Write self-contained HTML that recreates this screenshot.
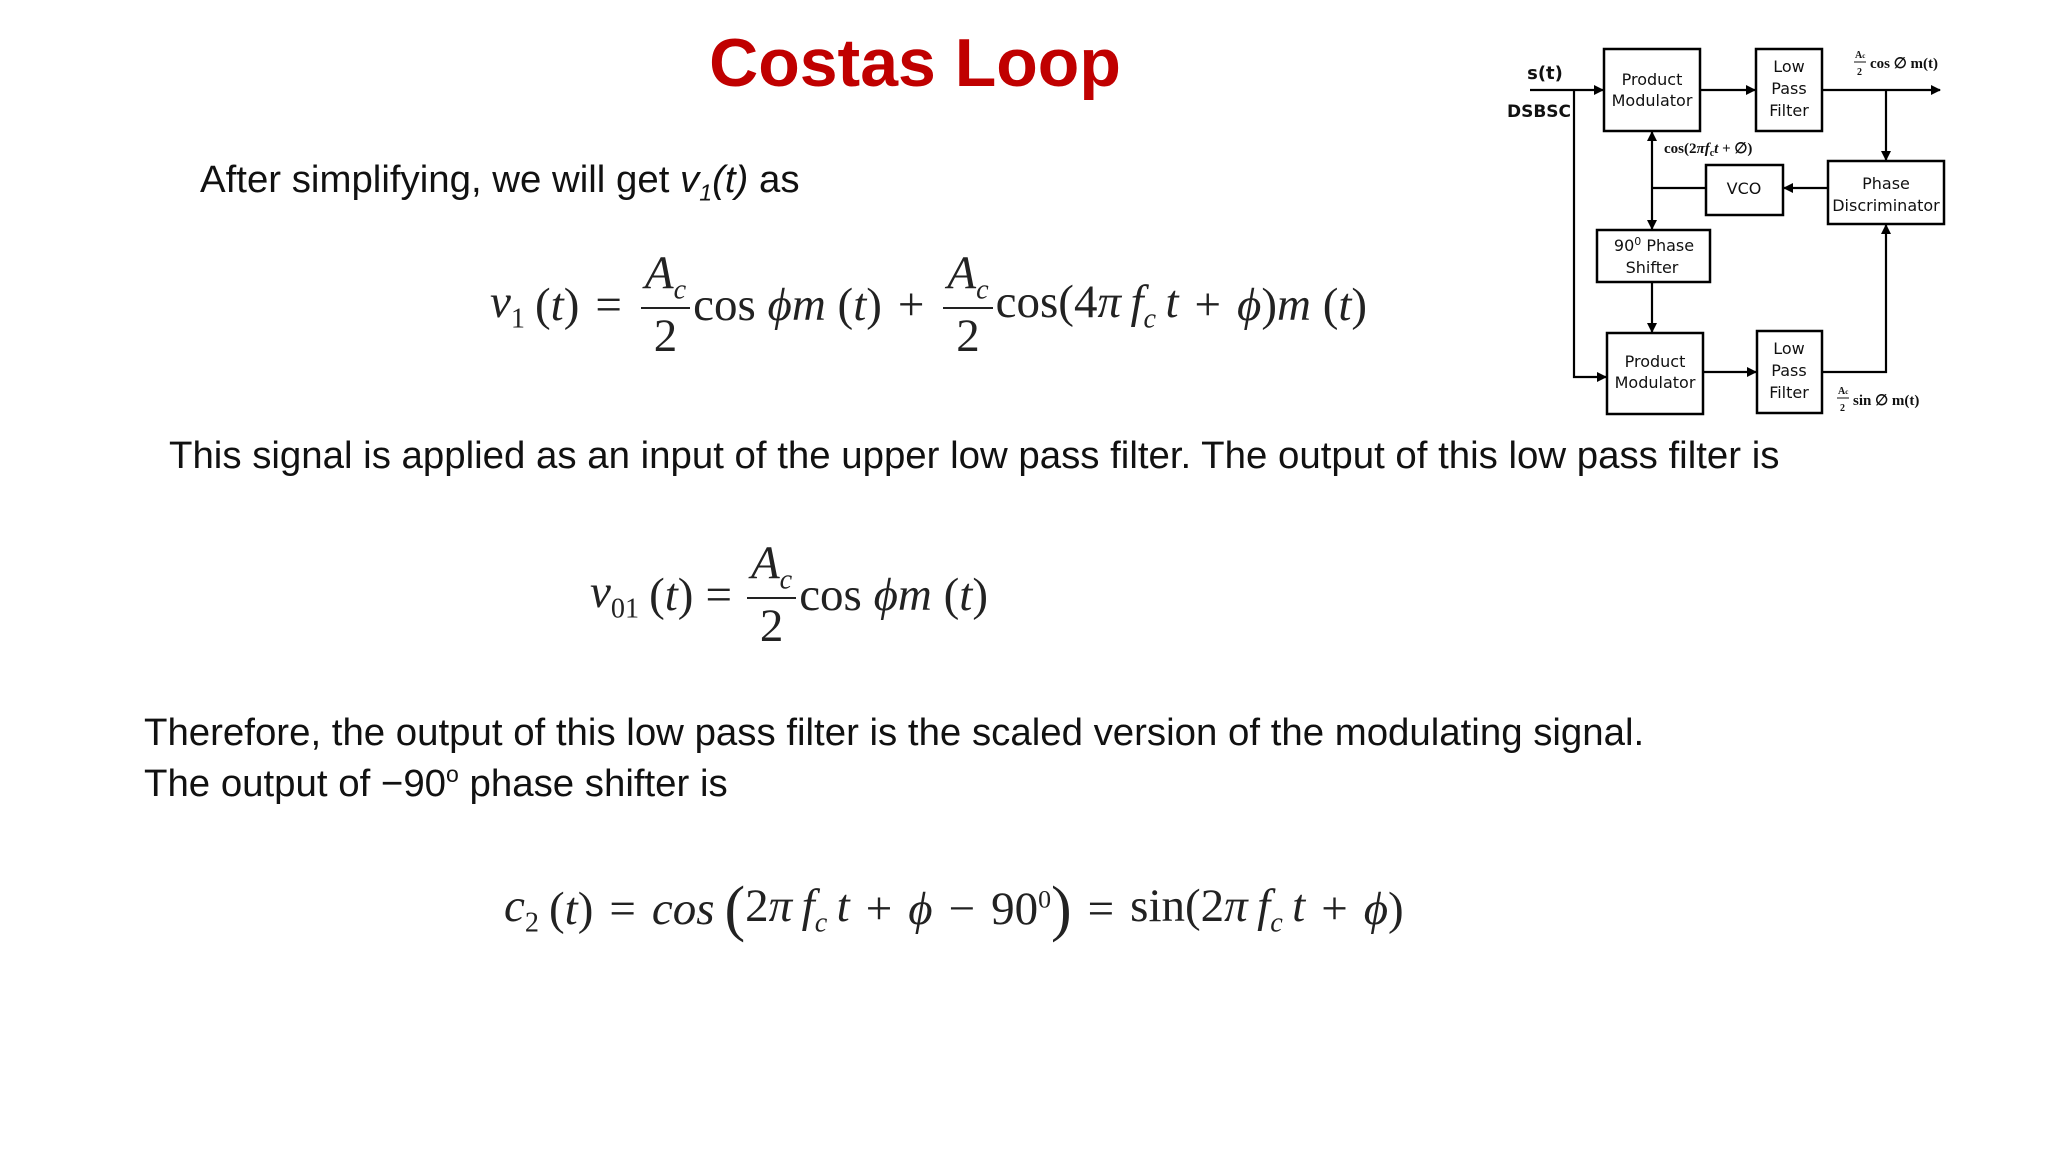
<!DOCTYPE html>
<html><head><meta charset="utf-8"><style>
body{margin:0;width:2048px;height:1152px;background:#fff;position:relative;overflow:hidden;font-family:"Liberation Sans",sans-serif;color:#111}
.a{position:absolute;white-space:nowrap}
.t{font-size:38.4px}
.m{font-family:"Liberation Serif",serif;font-size:47px;display:flex;align-items:center;color:#222}
.m>span{display:inline-block}
.fr{display:inline-flex !important;flex-direction:column;align-items:center;margin:0 3px;line-height:1}
.fr .n{border-bottom:2px solid #222;padding:0 4px 2px}
.fr .d{padding-top:4px}
.op{margin:0 16px}
.sp{margin-left:10px}
.e2 .op{margin:0 12px}
i{font-style:italic}
sub{font-size:60%}
</style></head><body>
<div class="a" style="left:0;width:1830px;top:24px;text-align:center;font-weight:bold;font-size:68px;color:#c00000">Costas Loop</div>
<div class="a t" style="left:200px;top:158px">After simplifying, we will get <i>v<sub>1</sub>(t)</i> as</div>
<div class="a m" style="left:490px;top:245px;height:120px"><span><i>v</i><sub>1</sub></span><span class="sp">(<i>t</i>)</span><span class="op">=</span><span class="fr"><span class="n"><i>A<sub>c</sub></i></span><span class="d">2</span></span><span>cos&nbsp;<i>ϕm</i>&nbsp;(<i>t</i>)</span><span class="op">+</span><span class="fr"><span class="n"><i>A<sub>c</sub></i></span><span class="d">2</span></span><span>cos(4<i>π</i>&thinsp;<i>f<sub>c</sub></i>&thinsp;<i>t</i></span><span class="op">+</span><span><i>ϕ</i>)<i>m</i>&nbsp;(<i>t</i>)</span></div>
<div class="a t" style="left:169px;top:434px">This signal is applied as an input of the upper low pass filter. The output of this low pass filter is</div>
<div class="a m e2" style="left:590px;top:535px;height:120px"><span><i>v</i><sub>01</sub></span><span class="sp">(<i>t</i>)</span><span class="op">=</span><span class="fr"><span class="n"><i>A<sub>c</sub></i></span><span class="d">2</span></span><span>cos&nbsp;<i>ϕm</i>&nbsp;(<i>t</i>)</span></div>
<div class="a t" style="left:144px;top:711px">Therefore, the output of this low pass filter is the scaled version of the modulating signal.</div>
<div class="a t" style="left:144px;top:761px">The output of −90<sup style="font-size:60%">o</sup> phase shifter is</div>
<div class="a m" style="left:504px;top:879px;height:60px"><span><i>c</i><sub>2</sub></span><span class="sp">(<i>t</i>)</span><span class="op">=</span><span><i>cos</i></span><span class="sp" style="font-size:62px">(</span><span>2<i>π</i>&thinsp;<i>f<sub>c</sub></i>&thinsp;<i>t</i></span><span class="op">+</span><span><i>ϕ</i></span><span class="op">−</span><span>90<sup style="font-size:55%">0</sup></span><span style="font-size:62px">)</span><span class="op">=</span><span>sin(2<i>π</i>&thinsp;<i>f<sub>c</sub></i>&thinsp;<i>t</i></span><span class="op">+</span><span><i>ϕ</i>)</span></div>

<svg class="a" style="left:0;top:0" width="2048" height="1152">
<defs><marker id="ar" markerWidth="10" markerHeight="10" refX="9" refY="5" orient="auto" markerUnits="userSpaceOnUse"><path d="M0,0L10,5L0,10z" fill="#000"/></marker></defs>
<g fill="#fff" stroke="#000" stroke-width="2.5">
<rect x="1604" y="49" width="96" height="82"/>
<rect x="1756" y="49" width="66" height="82"/>
<rect x="1828" y="161" width="116" height="63"/>
<rect x="1706" y="165" width="77" height="50"/>
<rect x="1597" y="230" width="113" height="52"/>
<rect x="1607" y="333" width="96" height="81"/>
<rect x="1757" y="331" width="65" height="82"/>
</g>
<g stroke="#000" stroke-width="2.2" fill="none">
<line x1="1530" y1="90" x2="1603" y2="90" marker-end="url(#ar)"/>
<polyline points="1574,90 1574,377 1606,377" marker-end="url(#ar)"/>
<line x1="1700" y1="90" x2="1755" y2="90" marker-end="url(#ar)"/>
<line x1="1822" y1="90" x2="1940" y2="90" marker-end="url(#ar)"/>
<line x1="1886" y1="90" x2="1886" y2="160" marker-end="url(#ar)"/>
<line x1="1828" y1="188" x2="1784" y2="188" marker-end="url(#ar)"/>
<line x1="1706" y1="188" x2="1652" y2="188"/>
<line x1="1652" y1="188" x2="1652" y2="132" marker-end="url(#ar)"/>
<line x1="1652" y1="188" x2="1652" y2="229" marker-end="url(#ar)"/>
<line x1="1652" y1="282" x2="1652" y2="332" marker-end="url(#ar)"/>
<line x1="1703" y1="372" x2="1756" y2="372" marker-end="url(#ar)"/>
<polyline points="1822,372 1886,372 1886,225" marker-end="url(#ar)"/>
</g>
<g font-family="DejaVu Sans,sans-serif" font-size="16" text-anchor="middle" fill="#111">
<text x="1652" y="85">Product</text><text x="1652" y="106">Modulator</text>
<text x="1789" y="72">Low</text><text x="1789" y="94">Pass</text><text x="1789" y="116">Filter</text>
<text x="1886" y="189">Phase</text><text x="1886" y="211">Discriminator</text>
<text x="1744" y="194">VCO</text>
<text x="1654" y="251">90<tspan font-size="11" dy="-6">0</tspan><tspan dy="6"> Phase</tspan></text><text x="1652" y="273">Shifter</text>
<text x="1655" y="367">Product</text><text x="1655" y="388">Modulator</text>
<text x="1789" y="354">Low</text><text x="1789" y="376">Pass</text><text x="1789" y="398">Filter</text>
<text x="1545" y="79" font-weight="bold" font-size="18">s(t)</text>
<text x="1539" y="117" font-weight="bold" font-size="17">DSBSC</text>
</g>
<g font-family="Liberation Serif,serif" font-size="15" fill="#111" font-weight="bold">
<text x="1664" y="153">cos(2<tspan font-style="italic">πf</tspan><tspan font-size="10" dy="3">c</tspan><tspan dy="-3" font-style="italic">t</tspan> + ∅)</text>
<text x="1855" y="58" font-size="10">A<tspan font-size="7">c</tspan></text><line x1="1854" y1="62" x2="1866" y2="62" stroke="#111"/><text x="1857" y="75" font-size="10">2</text>
<text x="1870" y="68">cos ∅ m(t)</text>
<text x="1838" y="394" font-size="10">A<tspan font-size="7">c</tspan></text><line x1="1837" y1="398" x2="1849" y2="398" stroke="#111"/><text x="1840" y="411" font-size="10">2</text>
<text x="1853" y="405">sin ∅ m(t)</text>
</g>
</svg>
</body></html>
